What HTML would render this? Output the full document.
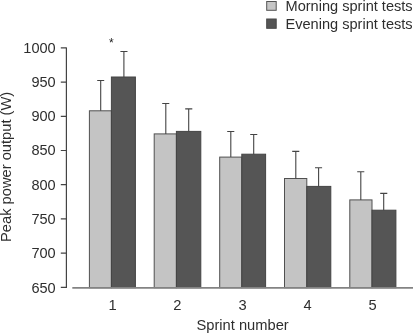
<!DOCTYPE html>
<html><head><meta charset="utf-8">
<style>
html,body{margin:0;padding:0;background:#fff;}
svg{display:block;}
text{font-family:"Liberation Sans",Arial,sans-serif;fill:#2e2e2e;font-size:14.7px;}
</style></head><body>
<svg width="413" height="333" viewBox="0 0 413 333">
<rect width="413" height="333" fill="#fff"/>
<!-- legend -->
<rect x="266.7" y="1.5" width="9.5" height="8.8" fill="#c6c6c6" stroke="#555" stroke-width="1"/>
<rect x="266.7" y="19" width="9.5" height="9.3" fill="#555" stroke="#484848" stroke-width="1"/>
<text transform="translate(285.5,10.8) scale(0.992,1)">Morning sprint tests</text>
<text transform="translate(285.5,28.7) scale(0.992,1)">Evening sprint tests</text>
<!-- bars -->
<g stroke="#444" stroke-width="1">
<g fill="#c4c4c4" stroke="#505050">
<rect x="89.4" y="110.8" width="22" height="176.9"/>
<rect x="154.2" y="133.9" width="22.2" height="153.8"/>
<rect x="219.7" y="157.1" width="22.1" height="130.6"/>
<rect x="284.5" y="178.5" width="22.3" height="109.2"/>
<rect x="349.8" y="199.9" width="22.2" height="87.8"/>
</g>
<g fill="#555">
<rect x="111.4" y="77" width="24" height="210.7"/>
<rect x="176.4" y="131.4" width="24.4" height="156.3"/>
<rect x="241.8" y="154.2" width="23.8" height="133.5"/>
<rect x="306.8" y="186.4" width="24" height="101.3"/>
<rect x="372" y="210.2" width="23.9" height="77.5"/>
</g>
</g>
<!-- x axis -->
<line x1="72.3" y1="287.9" x2="413" y2="287.9" stroke="#838383" stroke-width="1.6"/>
<!-- error bars -->
<g stroke="#444" stroke-width="1.1" fill="none">
<path d="M100.7 110.8V80.5M97.2 80.5H104.2"/>
<path d="M123.9 77V51.5M120.4 51.5H127.5"/>
<path d="M165.8 133.9V103.5M162.2 103.5H169.3"/>
<path d="M188.7 131.4V108.9M185.2 108.9H192.3"/>
<path d="M230.8 157.1V131.5M227.2 131.5H234.3"/>
<path d="M253.7 154.2V134.5M250.2 134.5H257.3"/>
<path d="M295.8 178.5V151.4M292.2 151.4H299.3"/>
<path d="M318.6 186.4V167.8M315 167.8H322.1"/>
<path d="M360.8 199.9V171.7M357.2 171.7H364.3"/>
<path d="M383.7 210.2V193.4M380.2 193.4H387.3"/>
</g>
<!-- y axis -->
<g stroke="#444" stroke-width="1.2" fill="none">
<path d="M66.4 47.4V288"/>
<path d="M60.8 47.9H66.4M60.8 82.1H66.4M60.8 116.3H66.4M60.8 150.5H66.4M60.8 184.7H66.4M60.8 218.9H66.4M60.8 253.1H66.4M60.8 287.4H66.4"/>
</g>
<g text-anchor="end">
<text transform="translate(55.7,52.9) scale(0.99,1)">1000</text>
<text transform="translate(55.7,87.1) scale(0.99,1)">950</text>
<text transform="translate(55.7,121.3) scale(0.99,1)">900</text>
<text transform="translate(55.7,155.4) scale(0.99,1)">850</text>
<text transform="translate(55.7,189.6) scale(0.99,1)">800</text>
<text transform="translate(55.7,223.8) scale(0.99,1)">750</text>
<text transform="translate(55.7,258.2) scale(0.99,1)">700</text>
<text transform="translate(55.7,292.6) scale(0.99,1)">650</text>
</g>
<g text-anchor="middle">
<text transform="translate(112.7,309.8)">1</text>
<text transform="translate(177.3,309.8)">2</text>
<text transform="translate(242.5,309.8)">3</text>
<text transform="translate(307.5,309.8)">4</text>
<text transform="translate(372.6,309.8)">5</text>
<text transform="translate(242.6,329.6)">Sprint number</text>
<text x="111.4" y="46.6" style="font-size:12px;fill:#222">*</text>
<text transform="translate(11.4,166.9) rotate(-90)">Peak power output (W)</text>
</g>
</svg>
</body></html>
